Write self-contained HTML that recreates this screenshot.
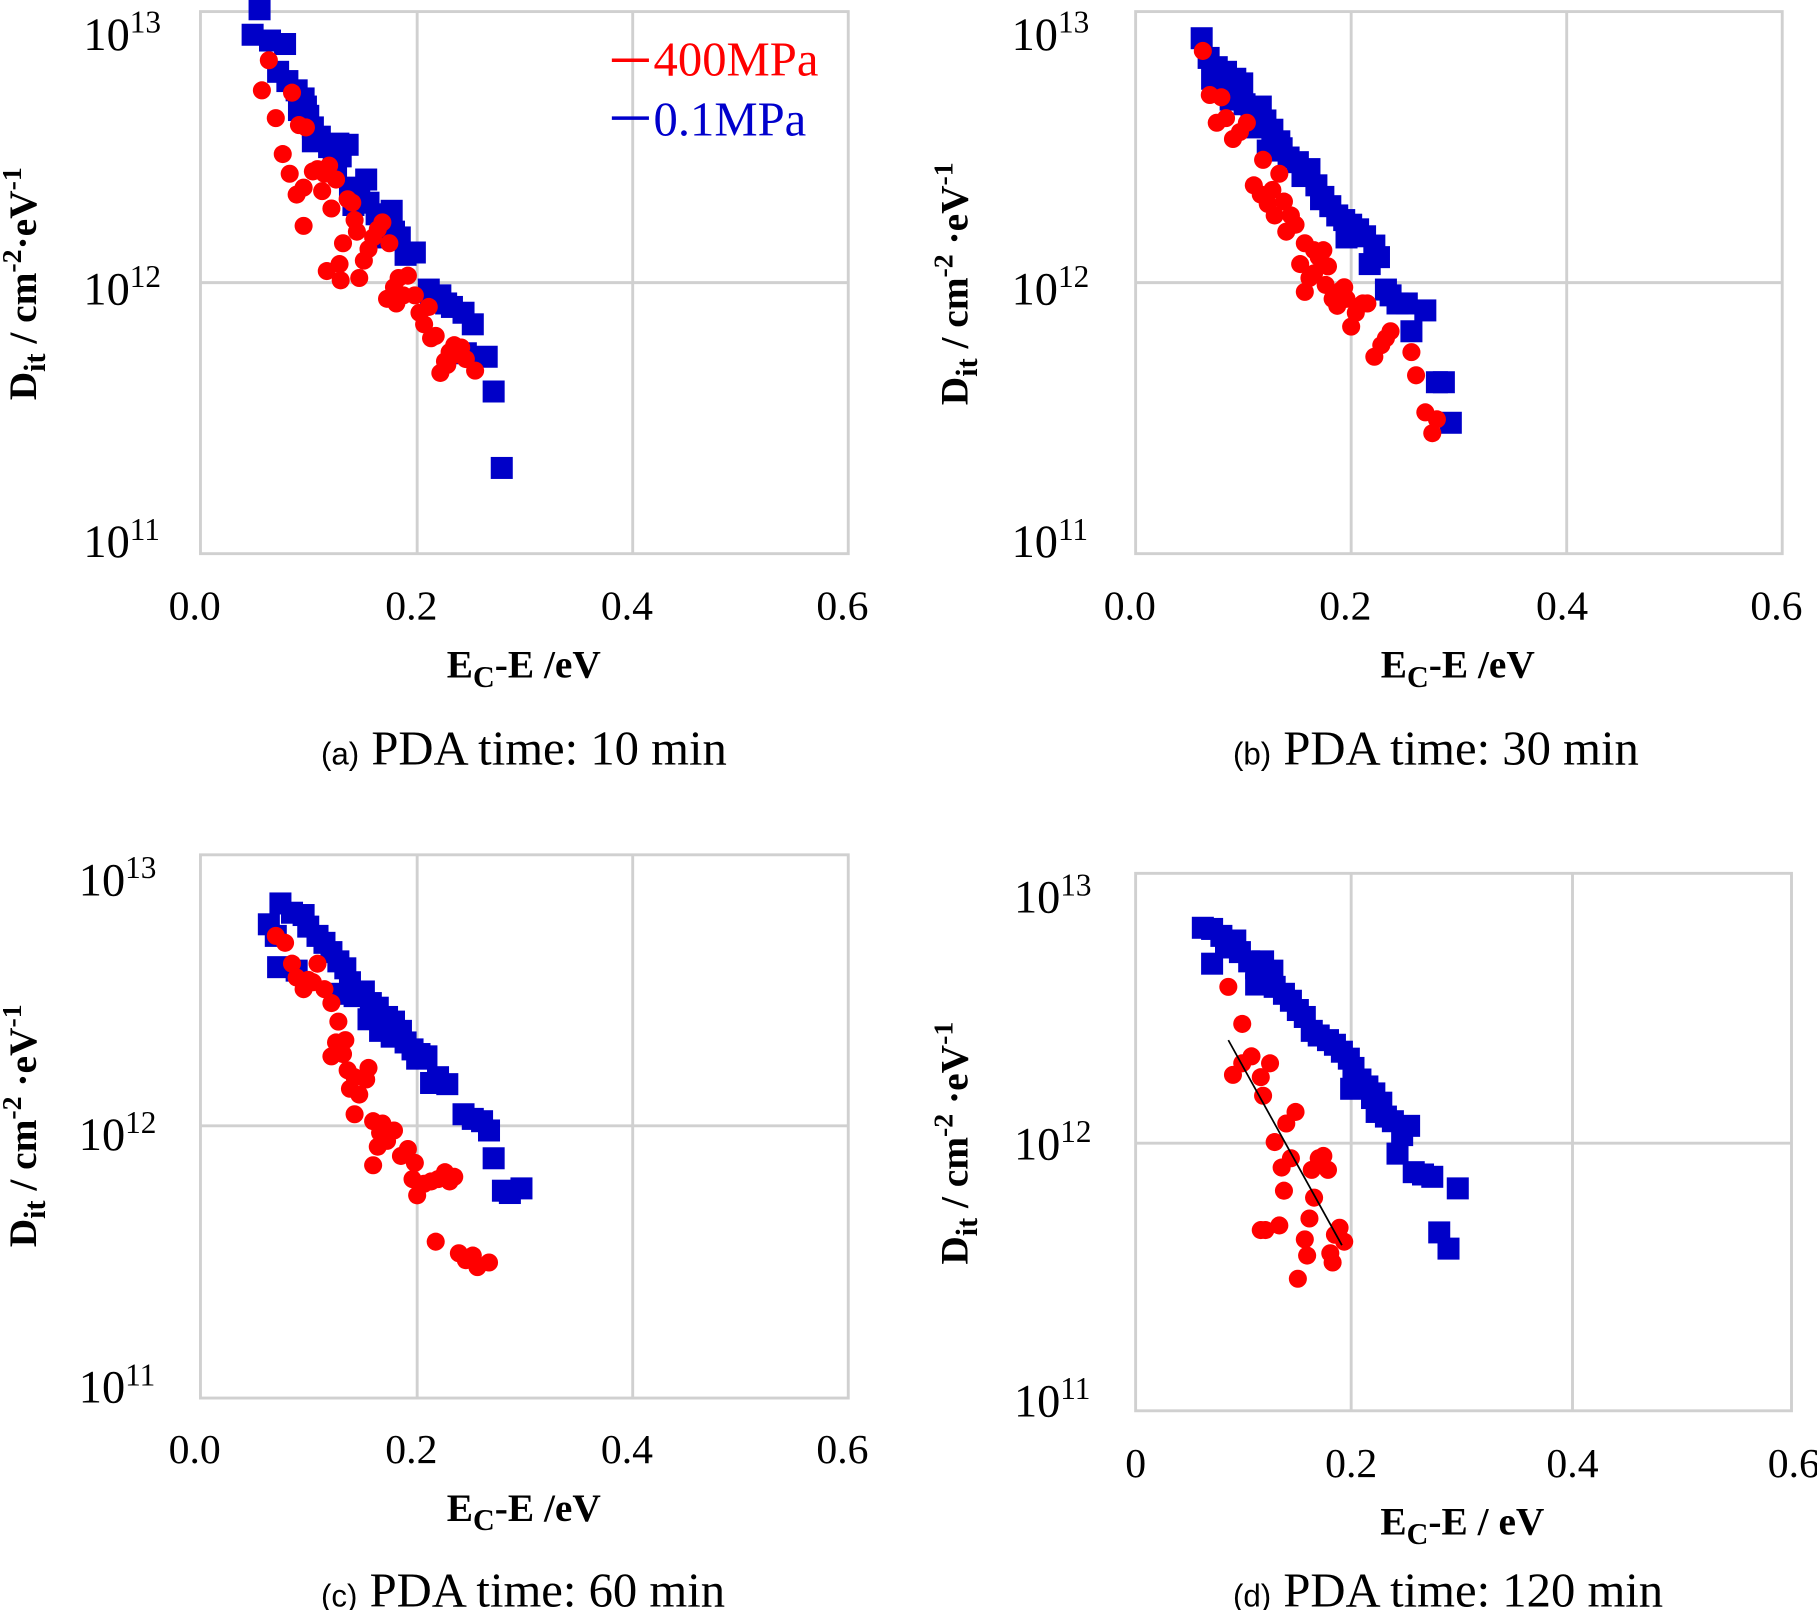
<!DOCTYPE html>
<html><head><meta charset="utf-8"><style>
html,body{margin:0;padding:0;background:#fff;}
svg{display:block;}
.t{font-family:"Liberation Serif",serif;fill:#000;}
.tk{font-size:36px;}
.ti{font-size:34px;font-weight:bold;}
.cap{font-size:42px;}
.cs{font-family:"Liberation Sans",sans-serif;font-size:27px;}
</style></head><body>
<svg id="s" width="1817" height="1610" viewBox="0 0 1568 1390" preserveAspectRatio="none" xmlns="http://www.w3.org/2000/svg">
<g stroke="#d0d0d0" stroke-width="2.5" fill="none">
<rect x="173" y="10" width="559" height="468"/><line x1="360" y1="10" x2="360" y2="478"/><line x1="546" y1="10" x2="546" y2="478"/><line x1="173" y1="244" x2="732" y2="244"/>
<rect x="980" y="10" width="558" height="468"/><line x1="1166" y1="10" x2="1166" y2="478"/><line x1="1352" y1="10" x2="1352" y2="478"/><line x1="980" y1="244" x2="1538" y2="244"/>
<rect x="173" y="738" width="559" height="469"/><line x1="360" y1="738" x2="360" y2="1207"/><line x1="546" y1="738" x2="546" y2="1207"/><line x1="173" y1="972" x2="732" y2="972"/>
<rect x="980" y="754" width="566" height="464"/><line x1="1166" y1="754" x2="1166" y2="1218"/><line x1="1357" y1="754" x2="1357" y2="1218"/><line x1="980" y1="987" x2="1546" y2="987"/>
</g>
<g id="pts"></g>
<line x1="1060" y1="898" x2="1158" y2="1075" stroke="#000" stroke-width="1.5"/>
<line x1="528" y1="52" x2="560" y2="52" stroke="#f00" stroke-width="3"/>
<text x="564" y="65" class="t" style="font-size:42px;fill:#f00">400MPa</text>
<line x1="528" y1="102" x2="560" y2="102" stroke="#00c" stroke-width="3"/>
<text x="564" y="117" class="t" style="font-size:42px;fill:#00c">0.1MPa</text>
<g class="t tk" text-anchor="middle">
<text x="168" y="535">0.0</text><text x="355" y="535">0.2</text><text x="541" y="535">0.4</text><text x="727" y="535">0.6</text>
<text x="975" y="535">0.0</text><text x="1161" y="535">0.2</text><text x="1348" y="535">0.4</text><text x="1533" y="535">0.6</text>
<text x="168" y="1263">0.0</text><text x="355" y="1263">0.2</text><text x="541" y="1263">0.4</text><text x="727" y="1263">0.6</text>
<text x="980" y="1275">0</text><text x="1166" y="1275">0.2</text><text x="1357" y="1275">0.4</text><text x="1548" y="1275">0.6</text>
</g>
<g class="t" style="font-size:40px">
<text x="72" y="43">10<tspan dy="-15" font-size="27">13</tspan></text>
<text x="72" y="263">10<tspan dy="-15" font-size="27">12</tspan></text>
<text x="72" y="481">10<tspan dy="-15" font-size="27">11</tspan></text>
<text x="873" y="43">10<tspan dy="-15" font-size="27">13</tspan></text>
<text x="873" y="263">10<tspan dy="-15" font-size="27">12</tspan></text>
<text x="873" y="481">10<tspan dy="-15" font-size="27">11</tspan></text>
<text x="68" y="773">10<tspan dy="-15" font-size="27">13</tspan></text>
<text x="68" y="993">10<tspan dy="-15" font-size="27">12</tspan></text>
<text x="68" y="1211">10<tspan dy="-15" font-size="27">11</tspan></text>
<text x="875" y="788">10<tspan dy="-15" font-size="27">13</tspan></text>
<text x="875" y="1001">10<tspan dy="-15" font-size="27">12</tspan></text>
<text x="875" y="1223">10<tspan dy="-15" font-size="27">11</tspan></text>
</g>
<g class="t ti" text-anchor="middle">
<text x="452" y="585">E<tspan dy="8" font-size="26">C</tspan><tspan dy="-8">-E /eV</tspan></text>
<text x="1258" y="585">E<tspan dy="8" font-size="26">C</tspan><tspan dy="-8">-E /eV</tspan></text>
<text x="452" y="1313">E<tspan dy="8" font-size="26">C</tspan><tspan dy="-8">-E /eV</tspan></text>
<text x="1262" y="1325">E<tspan dy="8" font-size="26">C</tspan><tspan dy="-8">-E / eV</tspan></text>
<text transform="translate(31,245) rotate(-90)">D<tspan dy="8" font-size="26">it</tspan><tspan dy="-8"> / cm</tspan><tspan dy="-13" font-size="24">-2</tspan><tspan dy="13">·eV</tspan><tspan dy="-13" font-size="24">-1</tspan></text>
<text transform="translate(835,245) rotate(-90)">D<tspan dy="8" font-size="26">it</tspan><tspan dy="-8"> / cm</tspan><tspan dy="-13" font-size="24">-2</tspan><tspan dy="13"> ·eV</tspan><tspan dy="-13" font-size="24">-1</tspan></text>
<text transform="translate(31,972) rotate(-90)">D<tspan dy="8" font-size="26">it</tspan><tspan dy="-8"> / cm</tspan><tspan dy="-13" font-size="24">-2</tspan><tspan dy="13"> ·eV</tspan><tspan dy="-13" font-size="24">-1</tspan></text>
<text transform="translate(835,987) rotate(-90)">D<tspan dy="8" font-size="26">it</tspan><tspan dy="-8"> / cm</tspan><tspan dy="-13" font-size="24">-2</tspan><tspan dy="13"> ·eV</tspan><tspan dy="-13" font-size="24">-1</tspan></text>
</g>
<g class="t cap">
<text x="277" y="660"><tspan class="cs">(a)</tspan> PDA time: 10 min</text>
<text x="1064" y="660"><tspan class="cs">(b)</tspan> PDA time: 30 min</text>
<text x="277" y="1387"><tspan class="cs">(c)</tspan> PDA time: 60 min</text>
<text x="1064" y="1387"><tspan class="cs">(d)</tspan> PDA time: 120 min</text>
</g>
</svg>
<script>
var B=[
[224,8],[218,30],[233,35],[246,38],[240,62],[248,70],[256,78],[262,85],[258,95],[266,100],[270,122],[276,118],[284,127],[292,124],[300,125],[290,148],[302,162],[316,155],[305,177],[318,175],[325,185],[338,182],[330,205],[345,205],[350,220],[358,218],[370,250],[380,255],[390,265],[400,270],[408,280],[402,305],[420,308],[426,338],[433,404],[288,130],[270,110],[264,92],[294,135],[310,170],[340,200],[372,258],[385,262],
[1037,33],[1043,50],[1050,58],[1058,62],[1046,68],[1052,76],[1066,68],[1072,72],[1062,86],[1074,90],[1080,96],[1088,92],[1092,104],[1080,110],[1098,112],[1104,122],[1094,130],[1106,128],[1112,136],[1120,140],[1124,152],[1130,146],[1136,160],[1140,172],[1148,178],[1154,186],[1160,190],[1142,170],[1166,194],[1172,198],[1178,204],[1186,212],[1190,222],[1182,228],[1196,250],[1206,262],[1214,262],[1218,286],[1230,268],[1240,330],[1246,330],[1252,365],[1200,255],[1170,200],[1162,205],
[232,798],[238,808],[242,780],[252,788],[262,790],[266,800],[274,808],[280,814],[286,822],[292,830],[298,836],[302,848],[292,858],[306,860],[314,856],[320,866],[326,870],[334,878],[328,890],[340,882],[346,890],[350,900],[356,906],[362,910],[368,912],[378,930],[386,936],[372,935],[400,962],[408,966],[416,968],[422,976],[426,1000],[434,1028],[440,1030],[450,1026],[240,835],[256,838],[318,880],[338,895],[360,914],
[1038,801],[1046,802],[1054,808],[1046,832],[1058,818],[1066,812],[1070,822],[1078,830],[1084,836],[1090,830],[1098,838],[1084,850],[1100,852],[1108,858],[1114,864],[1120,872],[1126,878],[1132,890],[1138,894],[1146,898],[1152,902],[1158,908],[1164,914],[1168,922],[1174,932],[1180,938],[1186,944],[1192,952],[1188,960],[1196,964],[1202,968],[1210,980],[1216,972],[1206,996],[1220,1012],[1228,1014],[1236,1016],[1242,1064],[1250,1078],[1258,1026],[1184,948],[1166,940]];
var R=[
[232,52],[226,78],[238,102],[244,133],[252,80],[258,108],[264,110],[250,150],[256,168],[262,162],[270,148],[274,146],[280,150],[284,143],[262,195],[278,165],[290,155],[286,180],[300,172],[304,175],[306,190],[308,200],[296,210],[282,234],[293,228],[294,242],[310,240],[314,225],[318,215],[322,205],[326,198],[330,192],[336,210],[334,258],[340,248],[344,240],[348,255],[352,238],[358,255],[362,270],[370,265],[366,280],[372,292],[376,290],[380,322],[384,312],[388,304],[392,298],[398,300],[402,310],[410,320],[394,306],[386,315],[342,262],
[1038,44],[1044,82],[1054,84],[1050,106],[1058,102],[1064,120],[1070,114],[1076,106],[1090,138],[1082,160],[1088,168],[1094,176],[1100,186],[1098,164],[1104,150],[1108,174],[1114,186],[1110,200],[1118,194],[1126,210],[1134,216],[1122,228],[1130,240],[1126,252],[1134,236],[1138,222],[1142,216],[1144,246],[1150,258],[1154,264],[1158,250],[1162,258],[1166,282],[1170,270],[1176,262],[1180,262],[1186,308],[1192,298],[1196,292],[1200,286],[1218,304],[1222,324],[1230,356],[1236,374],[1240,362],[1146,230],[1160,248],
[238,808],[246,814],[252,832],[256,844],[262,854],[266,846],[270,848],[274,832],[280,854],[286,866],[292,882],[298,898],[290,900],[286,912],[296,910],[300,924],[302,940],[306,930],[310,945],[306,962],[316,932],[318,922],[322,968],[328,978],[326,990],[334,985],[330,970],[340,976],[346,998],[352,992],[322,1006],[356,1018],[360,1032],[366,1022],[372,1020],[378,1018],[384,1012],[388,1020],[392,1016],[376,1072],[396,1082],[402,1088],[408,1084],[412,1094],[422,1090],[358,1004],
[1060,852],[1072,884],[1064,928],[1072,918],[1080,912],[1088,930],[1096,918],[1090,946],[1100,986],[1110,970],[1118,960],[1106,1008],[1114,1000],[1088,1062],[1104,1058],[1108,1028],[1132,1010],[1138,1000],[1142,998],[1146,1010],[1134,1034],[1130,1052],[1128,1084],[1126,1070],[1148,1082],[1152,1066],[1156,1060],[1160,1072],[1150,1090],[1120,1104],[1092,1062]];
var g=document.getElementById('pts'),h='';
B.forEach(function(p){h+='<rect x="'+(p[0]-9.5)+'" y="'+(p[1]-9.5)+'" width="19" height="19" fill="#0000c8"/>';});
R.forEach(function(p){h+='<circle cx="'+p[0]+'" cy="'+p[1]+'" r="7.8" fill="#ff0000"/>';});
g.innerHTML=h;
</script>
</body></html>
